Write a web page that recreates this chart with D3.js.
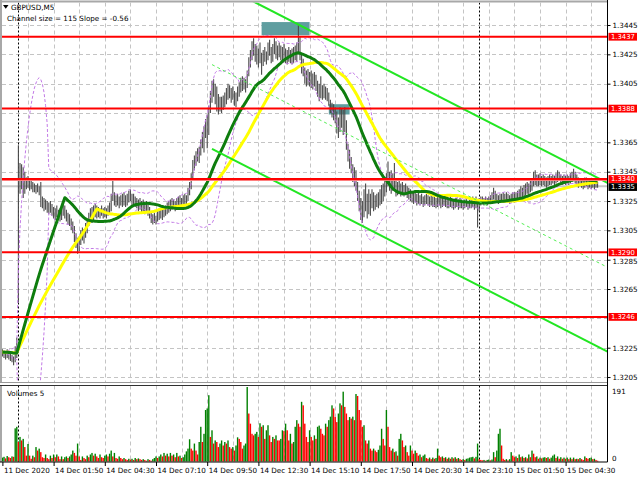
<!DOCTYPE html>
<html>
<head>
<meta charset="utf-8">
<script src="https://cdn.jsdelivr.net/npm/d3@7/dist/d3.min.js"></script>
<style>
html,body{margin:0;padding:0;background:#fff;}
svg{display:block;}
text{font-family:"DejaVu Sans",sans-serif;font-size:7.2px;fill:#000;}
</style>
</head>
<body>
<svg id="chart" width="640" height="480"></svg>
<script>
const symbolTitle = "GBPUSD,M5";
const channelInfo = "Channel size = 115 Slope = -0.56";
const volumeTitle = "Volumes 5";
const timeLabelBars = [0,32,64,96,128,160,192,224,256,288,320,352];
const timeLabelTexts = ["11 Dec 2020","14 Dec 01:50","14 Dec 04:30","14 Dec 07:10","14 Dec 09:50","14 Dec 12:30","14 Dec 15:10","14 Dec 17:50","14 Dec 20:30","14 Dec 23:10","15 Dec 01:50","15 Dec 04:30"];
const gridBars = [16,32,48,64,80,96,112,128,144,160,176,192,208,224,240,256,272,288,304,320,336,352,368];
const daySeparatorBars = [10, 298];
const priceGrid = [1.3205,1.3225,1.3245,1.3265,1.3285,1.3305,1.3325,1.3345,1.3365,1.3385,1.3405,1.3425,1.3445];
// labels hidden behind the level tags (1.3245, 1.3385) are left out
const priceLabels = [1.3205,1.3225,1.3265,1.3285,1.3305,1.3325,1.3345,1.3365,1.3405,1.3425,1.3445];
const levelPrices = [1.3437,1.3388,1.3340,1.3290,1.3246];
const bidPrice = 1.3335;
const askPrice = 1.3339;
const zoneStartBars = [162, 204];
const zoneEndBars = [192, 217];
const zoneLows = [1.3438, 1.3384];
const zoneHighs = [1.3447, 1.3391];
const channelStartBar = 131;
const channelStartPrice = 1.3418;
const channelSlope = -0.0000559;
const channelHalfWidth = 0.00575;

const lows = [
1.3219,1.3218,1.3217,1.3218,1.3217,1.3216,1.3215,1.3213,1.3215,1.3218,
1.3256,
1.3330,1.3333,1.3327,1.3330,
1.3333,1.3334,1.3332,1.3333,1.3331,
1.3331,1.3330,1.3331,1.3329,
1.3321,
1.3320,1.3318,1.3319,1.3317,1.3316,1.3317,1.3315,
1.3313,1.3312,1.3314,1.3312,
1.3311,1.3312,1.3315,1.3313,1.3311,
1.3309,1.3308,1.3305,1.3303,
1.3297,1.3293,1.3289,1.3291,
1.3295,1.3298,1.3296,1.3300,1.3303,
1.3308,1.3311,1.3310,1.3312,1.3314,1.3313,
1.3314,1.3313,1.3315,1.3313,1.3314,1.3313,1.3315,1.3316,
1.3318,1.3325,
1.3322,1.3321,1.3322,1.3320,1.3322,1.3321,1.3322,1.3321,
1.3322,1.3324,1.3325,1.3322,1.3323,1.3321,1.3320,
1.3318,1.3319,1.3317,1.3318,1.3316,1.3317,1.3315,1.3313,
1.3310,1.3309,1.3310,1.3309,1.3311,
1.3312,1.3313,1.3312,1.3314,1.3315,1.3316,
1.3317,1.3318,1.3319,1.3320,1.3318,1.3320,
1.3321,1.3322,1.3321,1.3322,1.3323,1.3322,
1.3325,1.3329,1.3333,1.3340,
1.3346,1.3349,1.3352,1.3351,
1.3356,1.3361,1.3358,1.3368,1.3361,1.3370,
1.3385,1.3392,1.3396,1.3391,
1.3386,1.3384,1.3386,
1.3385,1.3387,1.3389,1.3391,
1.3394,1.3395,1.3392,1.3394,
1.3390,1.3389,1.3393,1.3396,
1.3399,1.3400,1.3401,1.3399,1.3402,
1.3410,1.3416,
1.3421,1.3424,1.3420,
1.3418,1.3416,1.3419,1.3411,
1.3417,1.3420,1.3418,
1.3421,1.3424,1.3419,1.3420,
1.3425,1.3422,1.3421,
1.3423,1.3421,1.3420,1.3422,
1.3419,1.3418,1.3420,1.3419,
1.3418,1.3419,1.3421,1.3420,
1.3426,1.3421,
1.3412,1.3410,
1.3405,1.3403,1.3404,1.3403,
1.3402,1.3401,1.3403,1.3400,
1.3396,1.3393,1.3395,1.3394,
1.3395,1.3394,1.3393,1.3390,
1.3385,1.3382,1.3380,1.3378,
1.3371,1.3368,1.3372,1.3375,
1.3370,1.3372,1.3360,
1.3352,1.3347,1.3344,
1.3338,1.3335,1.3332,
1.3325,1.3318,1.3312,
1.3310,1.3314,1.3318,1.3313,1.3316,
1.3315,1.3320,1.3318,
1.3319,1.3321,1.3320,1.3322,
1.3323,1.3325,1.3328,
1.3331,1.3335,1.3332,
1.3330,1.3332,1.3333,
1.3328,1.3329,1.3330,
1.3328,1.3329,1.3328,1.3329,1.3327,1.3326,
1.3325,1.3324,1.3323,1.3324,1.3322,1.3323,
1.3322,1.3323,1.3321,1.3322,1.3323,1.3322,1.3321,1.3322,1.3321,
1.3321,1.3320,1.3321,1.3322,1.3320,1.3321,1.3322,1.3321,1.3320,
1.3320,1.3321,1.3320,1.3319,1.3320,1.3321,1.3319,1.3320,
1.3320,1.3319,1.3320,1.3321,1.3319,1.3320,
1.3320,1.3321,1.3319,1.3320,1.3307,1.3318,
1.3322,1.3323,1.3322,
1.3323,1.3322,1.3323,1.3324,1.3324,
1.3326,1.3325,1.3324,1.3323,1.3324,
1.3324,1.3325,1.3324,1.3325,1.3324,1.3323,1.3324,1.3325,1.3324,1.3325,1.3326,
1.3325,1.3327,1.3326,
1.3328,1.3329,1.3330,1.3329,1.3331,1.3332,
1.3335,1.3336,1.3335,
1.3335,1.3336,1.3335,1.3336,1.3335,1.3334,
1.3335,1.3336,1.3336,1.3337,1.3336,1.3337,
1.3338,1.3339,1.3337,
1.3336,1.3337,1.3336,1.3337,1.3336,1.3337,1.3338,
1.3339,1.3337,1.3336,
1.3334,1.3335,1.3334,1.3333,1.3334,1.3335,
1.3333,1.3334,1.3333,1.3334,1.3333,1.3334,1.3334];

const highs = [
1.3224,1.3223,1.3222,1.3224,1.3223,1.3221,1.3220,1.3219,1.3226,1.3232,
1.3363,
1.3351,1.3350,1.3348,1.3345,
1.3341,1.3342,1.3340,1.3339,1.3338,
1.3337,1.3336,1.3337,1.3335,
1.3338,
1.3328,1.3327,1.3326,1.3325,1.3324,1.3325,1.3323,
1.3321,1.3320,1.3322,1.3319,
1.3320,1.3322,1.3324,1.3322,1.3319,
1.3317,1.3316,1.3313,1.3311,
1.3308,1.3303,1.3300,1.3301,
1.3305,1.3307,1.3306,1.3310,1.3313,
1.3317,1.3320,1.3321,1.3322,1.3323,1.3322,
1.3321,1.3320,1.3322,1.3320,1.3321,1.3320,1.3322,1.3324,
1.3330,1.3339,
1.3331,1.3329,1.3330,1.3328,1.3329,1.3330,1.3331,1.3329,
1.3330,1.3332,1.3333,1.3330,1.3330,1.3328,1.3327,
1.3326,1.3327,1.3325,1.3326,1.3324,1.3325,1.3323,1.3321,
1.3318,1.3316,1.3317,1.3315,1.3318,
1.3319,1.3320,1.3319,1.3321,1.3322,1.3324,
1.3325,1.3326,1.3327,1.3326,1.3325,1.3327,
1.3328,1.3329,1.3327,1.3329,1.3330,1.3329,
1.3334,1.3338,1.3344,1.3353,
1.3356,1.3359,1.3361,1.3362,
1.3367,1.3372,1.3376,1.3381,1.3384,1.3390,
1.3400,1.3407,1.3408,1.3405,
1.3403,1.3398,1.3396,
1.3396,1.3397,1.3399,1.3402,
1.3405,1.3404,1.3402,1.3403,
1.3400,1.3399,1.3403,1.3406,
1.3409,1.3410,1.3409,1.3408,1.3414,
1.3423,1.3428,
1.3434,1.3436,1.3432,
1.3431,1.3429,1.3433,1.3426,
1.3428,1.3430,1.3427,
1.3433,1.3435,1.3430,1.3432,
1.3436,1.3434,1.3431,
1.3433,1.3431,1.3430,1.3432,
1.3429,1.3428,1.3430,1.3428,
1.3429,1.3430,1.3431,1.3433,
1.3445,1.3437,
1.3426,1.3422,
1.3416,1.3414,1.3415,1.3413,
1.3414,1.3412,1.3413,1.3411,
1.3407,1.3405,1.3410,1.3404,
1.3405,1.3403,1.3402,1.3399,
1.3394,1.3392,1.3391,1.3389,
1.3386,1.3382,1.3389,1.3388,
1.3387,1.3389,1.3380,
1.3364,1.3360,1.3355,
1.3350,1.3348,1.3346,
1.3338,1.3332,1.3327,
1.3325,1.3333,1.3337,1.3330,1.3333,
1.3330,1.3333,1.3331,
1.3329,1.3330,1.3331,1.3333,
1.3336,1.3337,1.3340,
1.3344,1.3352,1.3345,
1.3346,1.3344,1.3351,
1.3339,1.3338,1.3339,
1.3337,1.3338,1.3336,1.3337,1.3335,1.3334,
1.3333,1.3332,1.3331,1.3332,1.3330,1.3331,
1.3329,1.3330,1.3328,1.3329,1.3330,1.3329,1.3328,1.3329,1.3328,
1.3328,1.3327,1.3328,1.3328,1.3327,1.3328,1.3329,1.3328,1.3327,
1.3327,1.3328,1.3326,1.3326,1.3327,1.3327,1.3326,1.3327,
1.3326,1.3325,1.3326,1.3327,1.3325,1.3326,
1.3327,1.3328,1.3327,1.3328,1.3325,1.3327,
1.3328,1.3328,1.3327,
1.3328,1.3327,1.3328,1.3329,1.3331,
1.3334,1.3332,1.3330,1.3329,1.3330,
1.3330,1.3331,1.3330,1.3331,1.3330,1.3329,1.3330,1.3331,1.3331,1.3331,1.3332,
1.3333,1.3335,1.3334,
1.3336,1.3337,1.3338,1.3337,1.3339,1.3340,
1.3345,1.3346,1.3343,
1.3343,1.3344,1.3342,1.3343,1.3342,1.3341,
1.3342,1.3343,1.3342,1.3343,1.3342,1.3344,
1.3346,1.3345,1.3343,
1.3342,1.3343,1.3342,1.3343,1.3342,1.3344,1.3345,
1.3347,1.3345,1.3343,
1.3341,1.3340,1.3339,1.3340,1.3341,1.3341,
1.3339,1.3340,1.3338,1.3339,1.3338,1.3339,1.3338];

const closes = [
1.3222,1.3220,1.3221,1.3222,1.3219,1.3218,1.3217,1.3216,1.3224,1.3222,
1.3340,
1.3345,1.3336,1.3340,1.3338,
1.3338,1.3336,1.3337,1.3335,1.3334,
1.3335,1.3333,1.3334,1.3331,
1.3325,
1.3324,1.3322,1.3321,1.3320,1.3318,1.3322,1.3318,
1.3316,1.3318,1.3315,1.3317,
1.3316,1.3320,1.3318,1.3316,1.3313,
1.3312,1.3310,1.3307,1.3305,
1.3300,1.3297,1.3293,1.3298,
1.3302,1.3300,1.3304,1.3307,1.3311,
1.3315,1.3318,1.3313,1.3320,1.3317,1.3319,
1.3316,1.3318,1.3317,1.3319,1.3316,1.3318,1.3320,1.3322,
1.3328,1.3330,
1.3325,1.3327,1.3324,1.3326,1.3325,1.3328,1.3324,1.3327,
1.3328,1.3330,1.3327,1.3326,1.3325,1.3324,1.3322,
1.3321,1.3323,1.3320,1.3322,1.3319,1.3321,1.3318,1.3315,
1.3312,1.3314,1.3311,1.3313,1.3316,
1.3317,1.3315,1.3318,1.3319,1.3318,1.3322,
1.3323,1.3321,1.3325,1.3322,1.3324,1.3325,
1.3326,1.3324,1.3326,1.3327,1.3325,1.3328,
1.3332,1.3336,1.3341,1.3350,
1.3352,1.3357,1.3355,1.3360,
1.3365,1.3370,1.3373,1.3378,1.3372,1.3388,
1.3397,1.3404,1.3400,1.3398,
1.3390,1.3388,1.3393,
1.3390,1.3394,1.3396,1.3400,
1.3402,1.3398,1.3400,1.3396,
1.3393,1.3397,1.3401,1.3404,
1.3403,1.3407,1.3405,1.3406,1.3412,
1.3420,1.3425,
1.3431,1.3428,1.3426,
1.3422,1.3427,1.3424,1.3418,
1.3425,1.3423,1.3426,
1.3430,1.3427,1.3422,1.3429,
1.3433,1.3426,1.3428,
1.3430,1.3424,1.3427,1.3425,
1.3421,1.3425,1.3423,1.3426,
1.3422,1.3428,1.3424,1.3431,
1.3430,1.3424,
1.3415,1.3413,
1.3409,1.3411,1.3406,1.3410,
1.3408,1.3405,1.3410,1.3403,
1.3399,1.3402,1.3397,1.3400,
1.3398,1.3401,1.3396,1.3392,
1.3388,1.3386,1.3383,1.3385,
1.3374,1.3378,1.3385,1.3380,
1.3383,1.3375,1.3364,
1.3356,1.3350,1.3347,
1.3342,1.3345,1.3336,
1.3328,1.3322,1.3316,
1.3321,1.3330,1.3322,1.3318,1.3326,
1.3325,1.3328,1.3322,
1.3326,1.3324,1.3328,1.3330,
1.3333,1.3334,1.3338,
1.3340,1.3338,1.3342,
1.3334,1.3340,1.3336,
1.3331,1.3335,1.3332,
1.3334,1.3331,1.3333,1.3332,1.3330,1.3331,
1.3328,1.3327,1.3329,1.3326,1.3327,1.3325,
1.3326,1.3327,1.3324,1.3326,1.3328,1.3324,1.3325,1.3327,1.3324,
1.3325,1.3323,1.3326,1.3324,1.3322,1.3325,1.3327,1.3324,1.3323,
1.3324,1.3325,1.3322,1.3323,1.3325,1.3324,1.3322,1.3324,
1.3323,1.3322,1.3324,1.3323,1.3321,1.3324,
1.3325,1.3323,1.3325,1.3322,1.3319,1.3325,
1.3325,1.3324,1.3326,
1.3326,1.3324,1.3327,1.3326,1.3329,
1.3331,1.3327,1.3328,1.3326,1.3327,
1.3328,1.3327,1.3329,1.3327,1.3328,1.3326,1.3328,1.3329,1.3327,1.3329,1.3330,
1.3331,1.3329,1.3332,
1.3333,1.3335,1.3334,1.3336,1.3337,1.3338,
1.3341,1.3339,1.3337,
1.3340,1.3338,1.3340,1.3339,1.3337,1.3338,
1.3340,1.3339,1.3341,1.3340,1.3339,1.3342,
1.3343,1.3341,1.3340,
1.3339,1.3340,1.3338,1.3341,1.3339,1.3342,1.3343,
1.3341,1.3343,1.3338,
1.3336,1.3338,1.3335,1.3337,1.3339,1.3336,
1.3335,1.3337,1.3334,1.3336,1.3335,1.3337,1.3335];

const volumes = [
10,12,8,14,11,9,13,12,85,89,
50,63,54,58,37,15,45,15,7,15,
11,37,28,33,24,11,9,18,9,6,
15,9,18,11,18,13,6,13,6,11,
13,9,13,18,28,22,15,46,13,4,
13,9,6,15,11,18,22,15,20,13,
9,18,11,9,15,18,13,20,28,13,
22,9,7,13,9,6,9,6,4,7,
5,7,4,9,6,8,6,4,6,4,
2,6,4,2,6,9,13,9,13,18,
13,22,15,20,13,22,15,18,11,22,
13,15,9,11,18,26,33,57,33,28,
46,28,18,50,89,50,71,132,136,170,
63,80,46,54,50,37,46,54,41,50,
46,54,37,33,37,28,41,62,58,50,
33,41,46,191,123,97,71,67,71,76,
63,98,89,93,58,80,93,67,50,63,
58,67,54,54,58,80,78,97,80,54,
71,46,50,89,106,97,89,153,144,97,
63,50,80,63,54,67,58,89,92,84,
71,67,97,89,106,115,144,136,114,101,
123,149,144,179,140,123,106,114,110,115,
106,173,168,132,106,89,93,54,46,54,
33,28,33,28,24,30,41,84,58,41,
132,89,37,28,33,24,26,15,58,71,
54,37,41,24,15,41,28,20,28,22,
15,18,11,15,18,9,7,10,6,10,
7,9,33,15,11,13,9,11,7,10,
7,11,8,11,7,9,6,4,6,4,
7,8,10,11,12,8,12,46,6,4,
3,4,2,4,5,3,5,24,11,28,
71,84,41,7,4,6,3,6,24,15,
11,13,9,18,11,13,9,11,8,18,
11,28,20,11,13,7,10,8,10,11,
9,11,7,10,15,18,9,13,7,11,
7,10,7,10,6,10,6,10,6,7,
6,9,6,4,13,9,7,9,10,6,
7,4,2];

const maFastPeriod = 30, maSlowPeriod = 50, bandsPeriod = 20, bandsDev = 2;

// ---------- layout ----------
const svg = d3.select("#chart");
const L = 2, R = 607.5, MT = 2.5, MB = 382.5, VT = 385.5, VB = 462;
const n = closes.length;
const x = d3.scaleLinear().domain([0, n - 1]).range([2.4, 2.4 + (n - 1) * 1.6]);
const y = d3.scaleLinear().domain([1.3225, 1.3445]).range([347.7, 25]);
const vMax = d3.max(volumes);
const yv = d3.scaleLinear().domain([0, vMax]).range([VB - 0.5, 387]);
const fmt = d3.format(".4f");

svg.append("rect").attr("width", 640).attr("height", 480).attr("fill", "#fff");
const defs = svg.append("defs");
defs.append("clipPath").attr("id", "mainClip").append("rect")
  .attr("x", L).attr("y", MT).attr("width", R - L).attr("height", MB - MT);
defs.append("clipPath").attr("id", "volClip").append("rect")
  .attr("x", L).attr("y", VT).attr("width", R - L).attr("height", VB - VT);

const main = svg.append("g").attr("clip-path", "url(#mainClip)");
const vol = svg.append("g").attr("clip-path", "url(#volClip)");

// grid
main.selectAll(".hg").data(priceGrid).join("line")
  .attr("x1", L).attr("x2", R)
  .attr("y1", d => Math.round(y(d)) + 0.5).attr("y2", d => Math.round(y(d)) + 0.5)
  .attr("stroke", "#c4c4c4").attr("stroke-width", 1).attr("stroke-dasharray", "4,3");
main.selectAll(".vg").data(gridBars).join("line")
  .attr("x1", d => Math.round(x(d)) + 0.5).attr("x2", d => Math.round(x(d)) + 0.5)
  .attr("y1", MT).attr("y2", MB)
  .attr("stroke", "#c4c4c4").attr("stroke-width", 1).attr("stroke-dasharray", "4,3");
vol.selectAll(".vg").data(gridBars).join("line")
  .attr("x1", d => Math.round(x(d)) + 0.5).attr("x2", d => Math.round(x(d)) + 0.5)
  .attr("y1", VT).attr("y2", VB)
  .attr("stroke", "#c4c4c4").attr("stroke-width", 1).attr("stroke-dasharray", "4,3");

// zones
main.selectAll(".zone").data(zoneStartBars).join("rect")
  .attr("x", (d, i) => x(d)).attr("width", (d, i) => x(zoneEndBars[i]) - x(d))
  .attr("y", (d, i) => y(zoneHighs[i])).attr("height", (d, i) => y(zoneLows[i]) - y(zoneHighs[i]))
  .attr("fill", "#5f9ea0");

// bid line
main.append("line").attr("x1", L).attr("x2", R)
  .attr("y1", y(bidPrice)).attr("y2", y(bidPrice))
  .attr("stroke", "#c8c8c8").attr("stroke-width", 2);

// separators
[main, vol].forEach((g, k) => {
  g.selectAll(".sep").data(daySeparatorBars).join("line")
    .attr("x1", d => Math.round(x(d)) + 0.5).attr("x2", d => Math.round(x(d)) + 0.5)
    .attr("y1", k === 0 ? MT : VT).attr("y2", k === 0 ? MB : VB)
    .attr("stroke", "#000").attr("stroke-width", 1).attr("stroke-dasharray", "2,2");
});

// price bars
main.selectAll(".bar").data(closes).join("line")
  .attr("x1", (d, i) => x(i)).attr("x2", (d, i) => x(i))
  .attr("y1", (d, i) => y(highs[i])).attr("y2", (d, i) => y(lows[i]))
  .attr("stroke", "#4a4a4a").attr("stroke-width", 1.1);

// indicators
function sma(arr, p) {
  return arr.map((_, i) => {
    let s = 0;
    for (let k = i - p + 1; k <= i; k++) s += arr[Math.max(k, 0)];
    return s / p;
  });
}
function bands(arr, p, dev) {
  const m = sma(arr, p);
  const up = [], lo = [];
  arr.forEach((_, i) => {
    let s = 0;
    for (let k = i - p + 1; k <= i; k++) { const v = arr[Math.max(k, 0)] - m[i]; s += v * v; }
    const sd = Math.sqrt(s / p);
    up.push(m[i] + dev * sd); lo.push(m[i] - dev * sd);
  });
  return [up, lo];
}
const maFast = sma(closes, maFastPeriod);
const maSlow = sma(closes, maSlowPeriod);
const [bbUp, bbLo] = bands(closes, bandsPeriod, bandsDev);
const line = d3.line().x((d, i) => x(i)).y(d => y(d));

[bbUp, bbLo].forEach(b => main.append("path").attr("d", line(b)).attr("fill", "none")
  .attr("stroke", "#c27ae6").attr("stroke-width", 1).attr("stroke-dasharray", "3,2"));
main.append("path").attr("d", line(maSlow)).attr("fill", "none")
  .attr("stroke", "#ffff00").attr("stroke-width", 3).attr("stroke-linejoin", "round");
main.append("path").attr("d", line(maFast)).attr("fill", "none")
  .attr("stroke", "#0e7d0e").attr("stroke-width", 3).attr("stroke-linejoin", "round");

// regression channel
const chEndBar = x.invert(R);
const chMid = b => channelStartPrice + channelSlope * (b - channelStartBar);
[[channelHalfWidth, "none", 2, "#22e622"], [0, "3,3", 1, "#55ee55"], [-channelHalfWidth, "none", 2, "#22e622"]]
  .forEach(([off, dash, w, col]) => {
    main.append("line")
      .attr("x1", x(channelStartBar)).attr("y1", y(chMid(channelStartBar) + off))
      .attr("x2", x(chEndBar)).attr("y2", y(chMid(chEndBar) + off))
      .attr("stroke", col).attr("stroke-width", w).attr("stroke-dasharray", dash);
  });

// levels
main.selectAll(".lvl").data(levelPrices).join("line")
  .attr("x1", L).attr("x2", R).attr("y1", d => y(d)).attr("y2", d => y(d))
  .attr("stroke", "#ff0000").attr("stroke-width", 2);
main.append("line").attr("x1", L).attr("x2", R)
  .attr("y1", y(askPrice)).attr("y2", y(askPrice))
  .attr("stroke", "#ff7b7b").attr("stroke-width", 1);

// volumes
vol.selectAll(".vb").data(volumes).join("rect")
  .attr("x", (d, i) => x(i) - 0.7).attr("width", 1.4)
  .attr("y", d => yv(d)).attr("height", d => yv(0) - yv(d))
  .attr("fill", (d, i) => (i > 0 && d > volumes[i - 1]) || i === 0 ? "#008000" : "#ff0000");

// borders
svg.append("line").attr("x1", 0).attr("x2", R).attr("y1", 1.5).attr("y2", 1.5).attr("stroke", "#a8a8a8").attr("stroke-width", 2);
svg.append("line").attr("x1", 1).attr("x2", 1).attr("y1", 0).attr("y2", MB).attr("stroke", "#a8a8a8").attr("stroke-width", 2);
svg.append("line").attr("x1", 1).attr("x2", 1).attr("y1", VT).attr("y2", VB).attr("stroke", "#a8a8a8").attr("stroke-width", 2);
svg.append("line").attr("x1", 0).attr("x2", R).attr("y1", MB).attr("y2", MB).attr("stroke", "#9a9a9a").attr("stroke-width", 1);
svg.append("line").attr("x1", 0).attr("x2", R).attr("y1", VT).attr("y2", VT).attr("stroke", "#303030").attr("stroke-width", 1);
svg.append("line").attr("x1", 0).attr("x2", R).attr("y1", VB).attr("y2", VB).attr("stroke", "#000").attr("stroke-width", 1);
svg.append("line").attr("x1", R).attr("x2", R).attr("y1", 0).attr("y2", VB).attr("stroke", "#000").attr("stroke-width", 1);

// tag label positions (levels + bid), kept from colliding with each other
const TAG_FS = 6.8, TAG_ASC = 0.928 * TAG_FS, TAG_DESC = 0.236 * TAG_FS;
const tags = levelPrices.map(p => ({ p, fill: "#ff0000" }))
  .concat([{ p: bidPrice, fill: "#000000" }])
  .sort((a, b) => y(a.p) - y(b.p));
let prevBottom = -1e9;
tags.forEach(t => {
  let base = y(t.p) + 2.4;
  if (base - TAG_ASC < prevBottom + 0.1) base = prevBottom + 0.1 + TAG_ASC;
  t.base = base; t.top = base - TAG_ASC; t.bottom = base + TAG_DESC;
  t.cy = base - 2.4;
  prevBottom = t.bottom;
});

// price axis
const pAxis = svg.append("g").attr("transform", `translate(${R},0)`)
  .call(d3.axisRight(y).tickValues(priceLabels).tickSize(3).tickPadding(2).tickFormat(fmt));
pAxis.select(".domain").remove();
const AX_FS = 7.2, AX_ASC = 0.928 * AX_FS, AX_DESC = 0.236 * AX_FS;
pAxis.selectAll(".tick text").style("font-size", AX_FS + "px").attr("fill", "#000")
  .attr("dy", function (d) {
    const base0 = y(d) + 2.3;
    let shift = 0;
    tags.forEach(t => {
      const top = base0 + shift - AX_ASC, bot = base0 + shift + AX_DESC;
      if (bot > t.top && top < t.bottom) {
        shift = (y(d) < t.cy) ? (t.top - 0.1 - AX_DESC - base0) : (t.bottom + 0.1 + AX_ASC - base0);
      }
    });
    return 2.3 + shift;
  });

// tag labels
const lbl = svg.append("g");
tags.forEach(t => {
  lbl.append("rect").attr("x", 608.5).attr("y", t.cy - 3.9).attr("width", 28.5).attr("height", 7.8).attr("fill", t.fill);
  lbl.append("text").attr("x", 611).attr("y", t.base).style("font-size", TAG_FS + "px").style("fill", "#fff").text(fmt(t.p));
});

// time axis
const tAxis = svg.append("g").attr("transform", `translate(0,${VB})`)
  .call(d3.axisBottom(x).tickValues(timeLabelBars).tickSize(4).tickPadding(2).tickFormat((d, i) => timeLabelTexts[i]));
tAxis.select(".domain").remove();
tAxis.selectAll("text").attr("text-anchor", "start").attr("x", 1).style("font-size", "7.2px").attr("fill", "#000");

// volume axis labels
svg.append("text").attr("x", 612).attr("y", 394).text(String(vMax));
svg.append("text").attr("x", 612).attr("y", 460.5).text("0");

// titles
svg.append("path").attr("d", "M3,5 L8.5,5 L5.75,8.8 Z").attr("fill", "#000");
svg.append("text").attr("x", 11).attr("y", 10).text(symbolTitle);
svg.append("text").attr("x", 7).attr("y", 21).text(channelInfo);
svg.append("text").attr("x", 7).attr("y", 396).text(volumeTitle);
</script>
</body>
</html>
